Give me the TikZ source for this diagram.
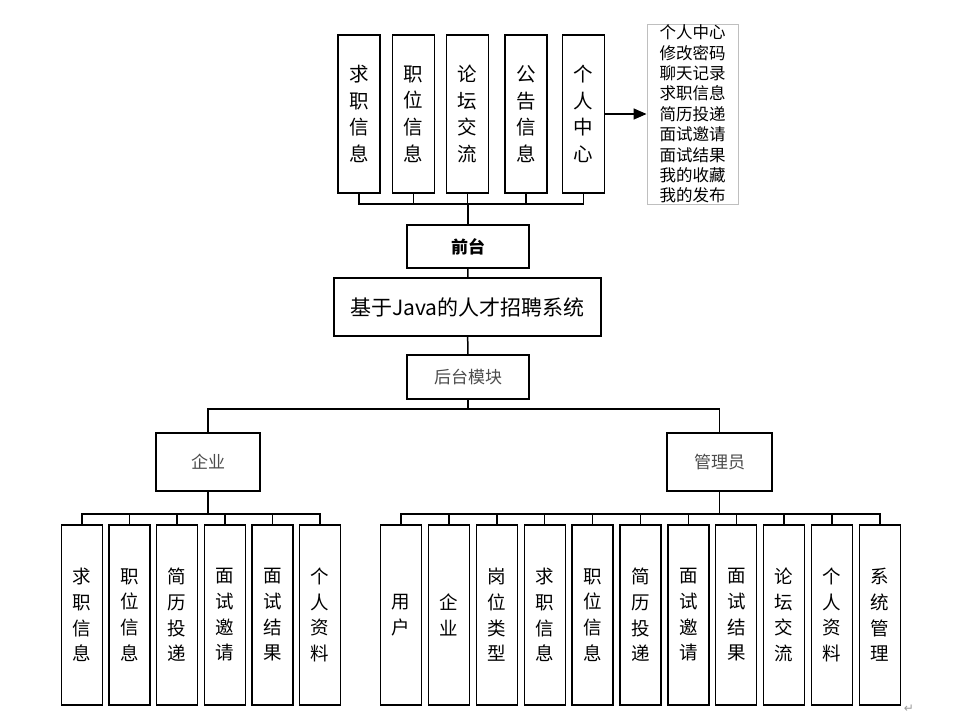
\documentclass[tikz,border=0pt]{standalone}
\usepackage{fontspec}
\setmainfont{Noto Sans CJK SC}
\newfontfamily\symfont{DejaVu Sans}
\usetikzlibrary{arrows.meta,calc}

\begin{document}
\begin{tikzpicture}[
  x=1pt,y=-1pt,
  >={Triangle[length=13pt,width=11pt]},
  vbox/.style={rectangle,draw=black,line width=1.3pt,fill=white,
               minimum width=42pt,minimum height=158pt,inner sep=0pt,
               align=center,font=\fontsize{19.5}{26.7}\selectfont},
  leaf/.style={vbox,minimum width=41pt,minimum height=180pt,
               font=\fontsize{18.5}{25.7}\selectfont},
  mid/.style={rectangle,draw=black,line width=1.3pt,fill=white,
              minimum width=122pt,minimum height=43pt,inner sep=0pt,
              font=\fontsize{17}{20}\selectfont},
  role/.style={mid,minimum width=104pt,minimum height=58pt},
  listbox/.style={rectangle,draw=black!25,line width=0.9pt,fill=white,
                  minimum width=91pt,minimum height=180pt,inner sep=0pt,
                  align=left,font=\fontsize{16.5}{20.4}\selectfont},
  conn/.style={line width=1.5pt,black},
  arr/.style={->,line width=1.5pt,black}
]
\useasboundingbox (0,0) rectangle (972,721);

%% ================= front end =================
\node[vbox] (t1) at (359,114)   {求\\职\\信\\息};
\node[vbox] (t2) at (413.5,114) {职\\位\\信\\息};
\node[vbox] (t3) at (467.5,114) {论\\坛\\交\\流};
\node[vbox] (t4) at (526,114)   {公\\告\\信\\息};
\node[vbox] (t5) at (583.5,114) {个\\人\\中\\心};
\node[listbox] (center) at (692.5,114)
  {个人中心\\修改密码\\聊天记录\\求职信息\\简历投递\\面试邀请\\面试结果\\我的收藏\\我的发布};
\draw[arr] (t5) -- (center);

\node[mid] (front) at (468,246.5) {\bfseries 前台};
\coordinate (topbus) at (468,204);
\foreach \a in {t1,t2,t3,t4,t5} \draw[conn] (\a.south) |- (topbus);
\draw[conn] (topbus) -- (front);

%% ================= system =================
\node[mid,minimum width=267pt,minimum height=58pt,
      font=\fontsize{21}{24}\selectfont] (sys) at (467.5,307) {基于Java的人才招聘系统};
\node[mid,minimum height=44pt] (back) at (468,377) {\color{black!70}后台模块};
\draw[conn] (front) -- (sys);
\draw[conn] (sys) -- (back);

%% ================= back end =================
\node[role] (ent) at (208,462)   {\color{black!70}企业};
\node[role,minimum width=105pt] (adm) at (719.5,462) {\color{black!70}管理员};
\coordinate (bus) at (468,409);
\draw[conn] (back) -- (bus);
\draw[conn] (bus) -| (ent);
\draw[conn] (bus) -| (adm);

\foreach \t [count=\i from 0] in {{求\\职\\信\\息},{职\\位\\信\\息},{简\\历\\投\\递},
                                  {面\\试\\邀\\请},{面\\试\\结\\果},{个\\人\\资\\料}}
  \node[leaf] (e\i) at ({82+47.6*\i},615) {\t};
\coordinate (ebus) at (208,514);
\draw[conn] (ent) -- (ebus);
\foreach \i in {0,...,5} \draw[conn] (ebus) -| (e\i);

\foreach \t [count=\i from 0] in {{用\\户},{企\\业},{岗\\位\\类\\型},{求\\职\\信\\息},
                                  {职\\位\\信\\息},{简\\历\\投\\递},{面\\试\\邀\\请},
                                  {面\\试\\结\\果},{论\\坛\\交\\流},{个\\人\\资\\料},
                                  {系\\统\\管\\理}}
  \node[leaf] (a\i) at ({401+47.9*\i},615) {\t};
\coordinate (abus) at (719.5,514);
\draw[conn] (adm) -- (abus);
\foreach \i in {0,...,10} \draw[conn] (abus) -| (a\i);

\node[text=black!40,font=\symfont\fontsize{12}{12}\selectfont] (mark) at (909,709) {↵};

\end{tikzpicture}
\end{document}
